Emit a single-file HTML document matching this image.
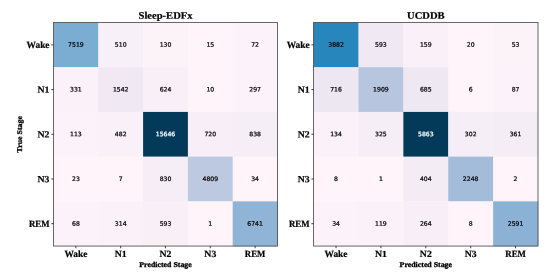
<!DOCTYPE html>
<html lang="en"><head><meta charset="utf-8"><title>Confusion matrices</title>
<style>
html,body{margin:0;padding:0;background:#fff;}
body{width:550px;height:278px;overflow:hidden;}
svg{display:block;}
text{text-rendering:geometricPrecision;}
.s{font-family:"Liberation Serif",serif;font-weight:bold;fill:#000;stroke:#000;stroke-width:0.18px;}
.n{font-family:"DejaVu Sans","Liberation Sans",sans-serif;font-size:6.15px;text-anchor:middle;stroke-width:0.24px;}
.t{font-size:9.5px;stroke-width:0.22px;}
.h{font-size:10.0px;text-anchor:middle;stroke-width:0.22px;}
.l{font-size:7.45px;text-anchor:middle;stroke-width:0.3px;}
</style></head>
<body>
<svg width="550" height="278" viewBox="0 0 550 278">
<rect x="0" y="0" width="550" height="278" fill="#ffffff"/>
<g>
<g>
<rect x="53.50" y="22.50" width="45.10" height="45.01" fill="#7bacd1"/>
<rect x="98.30" y="22.50" width="45.10" height="45.01" fill="#f8f0f8"/>
<rect x="143.10" y="22.50" width="45.10" height="45.01" fill="#fcf3f9"/>
<rect x="187.90" y="22.50" width="45.10" height="45.01" fill="#fef4fa"/>
<rect x="232.70" y="22.50" width="45.10" height="45.01" fill="#fcf3fa"/>
<rect x="53.50" y="67.21" width="45.10" height="45.01" fill="#faf1f9"/>
<rect x="98.30" y="67.21" width="45.10" height="45.01" fill="#f0e9f4"/>
<rect x="143.10" y="67.21" width="45.10" height="45.01" fill="#f8eff7"/>
<rect x="187.90" y="67.21" width="45.10" height="45.01" fill="#fef4fa"/>
<rect x="232.70" y="67.21" width="45.10" height="45.01" fill="#fcf2f9"/>
<rect x="53.50" y="111.92" width="45.10" height="45.01" fill="#fcf3fa"/>
<rect x="98.30" y="111.92" width="45.10" height="45.01" fill="#faf0f8"/>
<rect x="143.10" y="111.92" width="45.10" height="45.01" fill="#033a5a"/>
<rect x="187.90" y="111.92" width="45.10" height="45.01" fill="#f7eef7"/>
<rect x="232.70" y="111.92" width="45.10" height="45.01" fill="#f6eef6"/>
<rect x="53.50" y="156.63" width="45.10" height="45.01" fill="#fef4fa"/>
<rect x="98.30" y="156.63" width="45.10" height="45.01" fill="#fef4fa"/>
<rect x="143.10" y="156.63" width="45.10" height="45.01" fill="#f6eef6"/>
<rect x="187.90" y="156.63" width="45.10" height="45.01" fill="#bdc8e1"/>
<rect x="232.70" y="156.63" width="45.10" height="45.01" fill="#fef4fa"/>
<rect x="53.50" y="201.34" width="45.10" height="45.01" fill="#fcf3fa"/>
<rect x="98.30" y="201.34" width="45.10" height="45.01" fill="#faf1f9"/>
<rect x="143.10" y="201.34" width="45.10" height="45.01" fill="#f8eff7"/>
<rect x="187.90" y="201.34" width="45.10" height="45.01" fill="#fef4fa"/>
<rect x="232.70" y="201.34" width="45.10" height="45.01" fill="#8fb4d6"/>
</g>
<text class="n" transform="translate(75.90 46.81) rotate(0.04)" fill="#000000" stroke="#000000">7519</text>
<text class="n" transform="translate(120.70 46.81) rotate(0.04)" fill="#000000" stroke="#000000">510</text>
<text class="n" transform="translate(165.50 46.81) rotate(0.04)" fill="#000000" stroke="#000000">130</text>
<text class="n" transform="translate(210.30 46.81) rotate(0.04)" fill="#000000" stroke="#000000">15</text>
<text class="n" transform="translate(255.10 46.81) rotate(0.04)" fill="#000000" stroke="#000000">72</text>
<text class="n" transform="translate(75.90 91.52) rotate(0.04)" fill="#000000" stroke="#000000">331</text>
<text class="n" transform="translate(120.70 91.52) rotate(0.04)" fill="#000000" stroke="#000000">1542</text>
<text class="n" transform="translate(165.50 91.52) rotate(0.04)" fill="#000000" stroke="#000000">624</text>
<text class="n" transform="translate(210.30 91.52) rotate(0.04)" fill="#000000" stroke="#000000">10</text>
<text class="n" transform="translate(255.10 91.52) rotate(0.04)" fill="#000000" stroke="#000000">297</text>
<text class="n" transform="translate(75.90 136.22) rotate(0.04)" fill="#000000" stroke="#000000">113</text>
<text class="n" transform="translate(120.70 136.22) rotate(0.04)" fill="#000000" stroke="#000000">482</text>
<text class="n" transform="translate(165.50 136.22) rotate(0.04)" fill="#ffffff" stroke="#ffffff">15646</text>
<text class="n" transform="translate(210.30 136.22) rotate(0.04)" fill="#000000" stroke="#000000">720</text>
<text class="n" transform="translate(255.10 136.22) rotate(0.04)" fill="#000000" stroke="#000000">838</text>
<text class="n" transform="translate(75.90 180.94) rotate(0.04)" fill="#000000" stroke="#000000">23</text>
<text class="n" transform="translate(120.70 180.94) rotate(0.04)" fill="#000000" stroke="#000000">7</text>
<text class="n" transform="translate(165.50 180.94) rotate(0.04)" fill="#000000" stroke="#000000">830</text>
<text class="n" transform="translate(210.30 180.94) rotate(0.04)" fill="#000000" stroke="#000000">4809</text>
<text class="n" transform="translate(255.10 180.94) rotate(0.04)" fill="#000000" stroke="#000000">34</text>
<text class="n" transform="translate(75.90 225.64) rotate(0.04)" fill="#000000" stroke="#000000">68</text>
<text class="n" transform="translate(120.70 225.64) rotate(0.04)" fill="#000000" stroke="#000000">314</text>
<text class="n" transform="translate(165.50 225.64) rotate(0.04)" fill="#000000" stroke="#000000">593</text>
<text class="n" transform="translate(210.30 225.64) rotate(0.04)" fill="#000000" stroke="#000000">1</text>
<text class="n" transform="translate(255.10 225.64) rotate(0.04)" fill="#000000" stroke="#000000">6741</text>
<rect x="53.50" y="22.50" width="224.00" height="223.55" fill="none" stroke="#454545" stroke-width="0.8"/>
<line x1="75.90" y1="246.05" x2="75.90" y2="248.25" stroke="#111" stroke-width="0.8"/>
<line x1="51.30" y1="44.86" x2="53.50" y2="44.86" stroke="#111" stroke-width="0.8"/>
<text class="s t" text-anchor="middle" transform="translate(75.90 256.90) rotate(0.04) scale(0.985 1)">Wake</text>
<text class="s t" text-anchor="end" transform="translate(49.50 48.06) rotate(0.04) scale(0.985 1)">Wake</text>
<line x1="120.70" y1="246.05" x2="120.70" y2="248.25" stroke="#111" stroke-width="0.8"/>
<line x1="51.30" y1="89.56" x2="53.50" y2="89.56" stroke="#111" stroke-width="0.8"/>
<text class="s t" text-anchor="middle" transform="translate(120.70 256.90) rotate(0.04) scale(1.03 1)">N1</text>
<text class="s t" text-anchor="end" transform="translate(49.50 92.77) rotate(0.04) scale(1.03 1)">N1</text>
<line x1="165.50" y1="246.05" x2="165.50" y2="248.25" stroke="#111" stroke-width="0.8"/>
<line x1="51.30" y1="134.28" x2="53.50" y2="134.28" stroke="#111" stroke-width="0.8"/>
<text class="s t" text-anchor="middle" transform="translate(165.50 256.90) rotate(0.04) scale(1.03 1)">N2</text>
<text class="s t" text-anchor="end" transform="translate(49.50 137.47) rotate(0.04) scale(1.03 1)">N2</text>
<line x1="210.30" y1="246.05" x2="210.30" y2="248.25" stroke="#111" stroke-width="0.8"/>
<line x1="51.30" y1="178.99" x2="53.50" y2="178.99" stroke="#111" stroke-width="0.8"/>
<text class="s t" text-anchor="middle" transform="translate(210.30 256.90) rotate(0.04) scale(1.03 1)">N3</text>
<text class="s t" text-anchor="end" transform="translate(49.50 182.19) rotate(0.04) scale(1.03 1)">N3</text>
<line x1="255.10" y1="246.05" x2="255.10" y2="248.25" stroke="#111" stroke-width="0.8"/>
<line x1="51.30" y1="223.69" x2="53.50" y2="223.69" stroke="#111" stroke-width="0.8"/>
<text class="s t" text-anchor="middle" transform="translate(255.10 256.90) rotate(0.04) scale(0.93 1)">REM</text>
<text class="s t" text-anchor="end" transform="translate(49.50 226.89) rotate(0.04) scale(0.93 1)">REM</text>
<text class="s h" transform="translate(165.50 18.75) rotate(0.04) scale(1.057 1)">Sleep-EDFx</text>
<text class="s l" transform="translate(165.50 267.00) rotate(0.04) scale(1.057 1)">Predicted Stage</text>
<text class="s l" transform="translate(22.00 134.28) rotate(-90.04) scale(1.057 1)">True Stage</text>
</g>
<g>
<g>
<rect x="313.60" y="22.50" width="45.18" height="45.01" fill="#2786bb"/>
<rect x="358.48" y="22.50" width="45.18" height="45.01" fill="#f0e9f4"/>
<rect x="403.36" y="22.50" width="45.18" height="45.01" fill="#faf1f8"/>
<rect x="448.24" y="22.50" width="45.18" height="45.01" fill="#fef4fa"/>
<rect x="493.12" y="22.50" width="45.18" height="45.01" fill="#fcf3f9"/>
<rect x="313.60" y="67.21" width="45.18" height="45.01" fill="#ede7f2"/>
<rect x="358.48" y="67.21" width="45.18" height="45.01" fill="#b7c5df"/>
<rect x="403.36" y="67.21" width="45.18" height="45.01" fill="#eee8f3"/>
<rect x="448.24" y="67.21" width="45.18" height="45.01" fill="#fef4fa"/>
<rect x="493.12" y="67.21" width="45.18" height="45.01" fill="#fcf2f9"/>
<rect x="313.60" y="111.92" width="45.18" height="45.01" fill="#faf1f9"/>
<rect x="358.48" y="111.92" width="45.18" height="45.01" fill="#f6eef6"/>
<rect x="403.36" y="111.92" width="45.18" height="45.01" fill="#033a5a"/>
<rect x="448.24" y="111.92" width="45.18" height="45.01" fill="#f6eef6"/>
<rect x="493.12" y="111.92" width="45.18" height="45.01" fill="#f5edf6"/>
<rect x="313.60" y="156.63" width="45.18" height="45.01" fill="#fef4fa"/>
<rect x="358.48" y="156.63" width="45.18" height="45.01" fill="#fef4fa"/>
<rect x="403.36" y="156.63" width="45.18" height="45.01" fill="#f4ecf5"/>
<rect x="448.24" y="156.63" width="45.18" height="45.01" fill="#a2bcda"/>
<rect x="493.12" y="156.63" width="45.18" height="45.01" fill="#fef4fa"/>
<rect x="313.60" y="201.34" width="45.18" height="45.01" fill="#fcf3fa"/>
<rect x="358.48" y="201.34" width="45.18" height="45.01" fill="#faf1f9"/>
<rect x="403.36" y="201.34" width="45.18" height="45.01" fill="#f7eef7"/>
<rect x="448.24" y="201.34" width="45.18" height="45.01" fill="#fef4fa"/>
<rect x="493.12" y="201.34" width="45.18" height="45.01" fill="#8bb2d4"/>
</g>
<text class="n" transform="translate(336.04 46.81) rotate(0.04)" fill="#000000" stroke="#000000">3882</text>
<text class="n" transform="translate(380.92 46.81) rotate(0.04)" fill="#000000" stroke="#000000">593</text>
<text class="n" transform="translate(425.80 46.81) rotate(0.04)" fill="#000000" stroke="#000000">159</text>
<text class="n" transform="translate(470.68 46.81) rotate(0.04)" fill="#000000" stroke="#000000">20</text>
<text class="n" transform="translate(515.56 46.81) rotate(0.04)" fill="#000000" stroke="#000000">53</text>
<text class="n" transform="translate(336.04 91.52) rotate(0.04)" fill="#000000" stroke="#000000">716</text>
<text class="n" transform="translate(380.92 91.52) rotate(0.04)" fill="#000000" stroke="#000000">1909</text>
<text class="n" transform="translate(425.80 91.52) rotate(0.04)" fill="#000000" stroke="#000000">685</text>
<text class="n" transform="translate(470.68 91.52) rotate(0.04)" fill="#000000" stroke="#000000">6</text>
<text class="n" transform="translate(515.56 91.52) rotate(0.04)" fill="#000000" stroke="#000000">87</text>
<text class="n" transform="translate(336.04 136.22) rotate(0.04)" fill="#000000" stroke="#000000">134</text>
<text class="n" transform="translate(380.92 136.22) rotate(0.04)" fill="#000000" stroke="#000000">325</text>
<text class="n" transform="translate(425.80 136.22) rotate(0.04)" fill="#ffffff" stroke="#ffffff">5863</text>
<text class="n" transform="translate(470.68 136.22) rotate(0.04)" fill="#000000" stroke="#000000">302</text>
<text class="n" transform="translate(515.56 136.22) rotate(0.04)" fill="#000000" stroke="#000000">361</text>
<text class="n" transform="translate(336.04 180.94) rotate(0.04)" fill="#000000" stroke="#000000">8</text>
<text class="n" transform="translate(380.92 180.94) rotate(0.04)" fill="#000000" stroke="#000000">1</text>
<text class="n" transform="translate(425.80 180.94) rotate(0.04)" fill="#000000" stroke="#000000">404</text>
<text class="n" transform="translate(470.68 180.94) rotate(0.04)" fill="#000000" stroke="#000000">2248</text>
<text class="n" transform="translate(515.56 180.94) rotate(0.04)" fill="#000000" stroke="#000000">2</text>
<text class="n" transform="translate(336.04 225.64) rotate(0.04)" fill="#000000" stroke="#000000">34</text>
<text class="n" transform="translate(380.92 225.64) rotate(0.04)" fill="#000000" stroke="#000000">119</text>
<text class="n" transform="translate(425.80 225.64) rotate(0.04)" fill="#000000" stroke="#000000">264</text>
<text class="n" transform="translate(470.68 225.64) rotate(0.04)" fill="#000000" stroke="#000000">8</text>
<text class="n" transform="translate(515.56 225.64) rotate(0.04)" fill="#000000" stroke="#000000">2591</text>
<rect x="313.60" y="22.50" width="224.40" height="223.55" fill="none" stroke="#454545" stroke-width="0.8"/>
<line x1="336.04" y1="246.05" x2="336.04" y2="248.25" stroke="#111" stroke-width="0.8"/>
<line x1="311.40" y1="44.86" x2="313.60" y2="44.86" stroke="#111" stroke-width="0.8"/>
<text class="s t" text-anchor="middle" transform="translate(336.04 256.90) rotate(0.04) scale(0.985 1)">Wake</text>
<text class="s t" text-anchor="end" transform="translate(309.60 48.06) rotate(0.04) scale(0.985 1)">Wake</text>
<line x1="380.92" y1="246.05" x2="380.92" y2="248.25" stroke="#111" stroke-width="0.8"/>
<line x1="311.40" y1="89.56" x2="313.60" y2="89.56" stroke="#111" stroke-width="0.8"/>
<text class="s t" text-anchor="middle" transform="translate(380.92 256.90) rotate(0.04) scale(1.03 1)">N1</text>
<text class="s t" text-anchor="end" transform="translate(309.60 92.77) rotate(0.04) scale(1.03 1)">N1</text>
<line x1="425.80" y1="246.05" x2="425.80" y2="248.25" stroke="#111" stroke-width="0.8"/>
<line x1="311.40" y1="134.28" x2="313.60" y2="134.28" stroke="#111" stroke-width="0.8"/>
<text class="s t" text-anchor="middle" transform="translate(425.80 256.90) rotate(0.04) scale(1.03 1)">N2</text>
<text class="s t" text-anchor="end" transform="translate(309.60 137.47) rotate(0.04) scale(1.03 1)">N2</text>
<line x1="470.68" y1="246.05" x2="470.68" y2="248.25" stroke="#111" stroke-width="0.8"/>
<line x1="311.40" y1="178.99" x2="313.60" y2="178.99" stroke="#111" stroke-width="0.8"/>
<text class="s t" text-anchor="middle" transform="translate(470.68 256.90) rotate(0.04) scale(1.03 1)">N3</text>
<text class="s t" text-anchor="end" transform="translate(309.60 182.19) rotate(0.04) scale(1.03 1)">N3</text>
<line x1="515.56" y1="246.05" x2="515.56" y2="248.25" stroke="#111" stroke-width="0.8"/>
<line x1="311.40" y1="223.69" x2="313.60" y2="223.69" stroke="#111" stroke-width="0.8"/>
<text class="s t" text-anchor="middle" transform="translate(515.56 256.90) rotate(0.04) scale(0.93 1)">REM</text>
<text class="s t" text-anchor="end" transform="translate(309.60 226.89) rotate(0.04) scale(0.93 1)">REM</text>
<text class="s h" transform="translate(425.80 18.75) rotate(0.04) scale(1.057 1)">UCDDB</text>
<text class="s l" transform="translate(425.80 267.00) rotate(0.04) scale(1.057 1)">Predicted Stage</text>
</g>
</svg>
</body></html>
